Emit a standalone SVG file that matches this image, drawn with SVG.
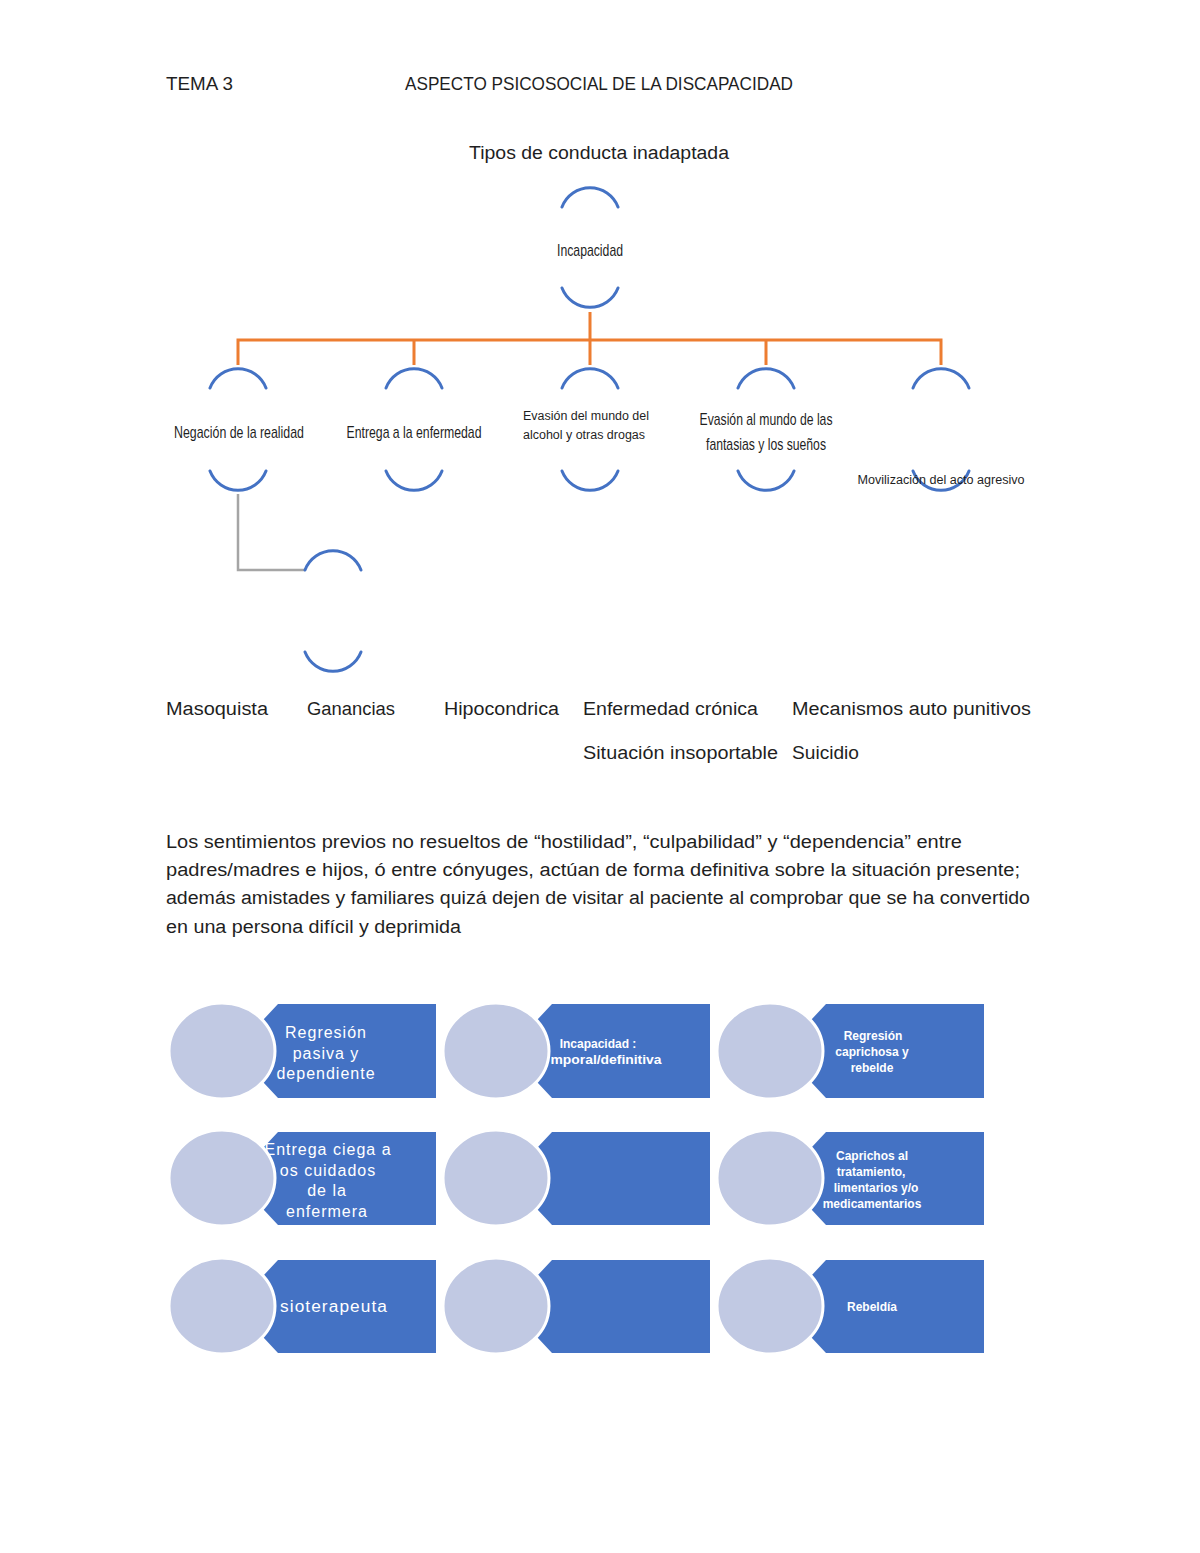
<svg xmlns="http://www.w3.org/2000/svg" width="1200" height="1553" viewBox="0 0 1200 1553">
<style>
text{font-family:"Liberation Sans",Arial,sans-serif;fill:#1f1f1f}
.h{font-size:18px}
.lab{font-size:17px;text-anchor:middle}
.sm{font-size:12px;text-anchor:middle}
.arc{fill:none;stroke:#4472C4;stroke-width:3;stroke-linecap:round}
.org{fill:none;stroke:#ED7D31;stroke-width:3}
.gry{fill:none;stroke:#A5A5A5;stroke-width:2.5}
.box{fill:#4472C4}
.circ{fill:#C1C9E3;stroke:#ffffff;stroke-width:3}
.bt{fill:#ffffff;font-size:16px;text-anchor:middle;letter-spacing:1px}
.bs{fill:#ffffff;font-size:12px;font-weight:bold;text-anchor:middle}
</style>
<rect width="1200" height="1553" fill="#ffffff"/>
<g id="header">
<text class="h" x="166" y="90" textLength="67" lengthAdjust="spacingAndGlyphs">TEMA 3</text>
<text class="h" x="405" y="90" textLength="388" lengthAdjust="spacingAndGlyphs">ASPECTO PSICOSOCIAL DE LA DISCAPACIDAD</text>
<text class="h" x="469" y="159" textLength="260" lengthAdjust="spacingAndGlyphs">Tipos de conducta inadaptada</text>
</g>
<g id="connectors">
<path class="org" d="M590 312 V340 M238 365 V340 H941 V365 M414 340 V365 M590 340 V365 M766 340 V365"/>
<path class="gry" d="M238 494 V570 H305"/>
</g>
<g id="node-incapacidad">
<path class="arc" d="M562 207 A30 30 0 0 1 618 207 M562 288 A30 30 0 0 0 618 288"/>
<text class="lab" x="590" y="256" textLength="66" lengthAdjust="spacingAndGlyphs">Incapacidad</text>
</g>
<g id="node-negacion">
<path class="arc" d="M210 388 A30 30 0 0 1 266 388 M210 471 A30 30 0 0 0 266 471"/>
<text class="lab" x="239" y="438" textLength="130" lengthAdjust="spacingAndGlyphs">Negación de la realidad</text>
</g>
<g id="node-entrega">
<path class="arc" d="M386 388 A30 30 0 0 1 442 388 M386 471 A30 30 0 0 0 442 471"/>
<text class="lab" x="414" y="438" textLength="135" lengthAdjust="spacingAndGlyphs">Entrega a la enfermedad</text>
</g>
<g id="node-alcohol">
<path class="arc" d="M562 388 A30 30 0 0 1 618 388 M562 471 A30 30 0 0 0 618 471"/>
<text class="sm" x="586" y="420" textLength="126" lengthAdjust="spacingAndGlyphs">Evasión del mundo del</text>
<text class="sm" x="584" y="439" textLength="122" lengthAdjust="spacingAndGlyphs">alcohol y otras drogas</text>
</g>
<g id="node-fantasias">
<path class="arc" d="M738 388 A30 30 0 0 1 794 388 M738 471 A30 30 0 0 0 794 471"/>
<text class="lab" x="766" y="425" textLength="133" lengthAdjust="spacingAndGlyphs">Evasión al mundo de las</text>
<text class="lab" x="766" y="450" textLength="120" lengthAdjust="spacingAndGlyphs">fantasias y los sueños</text>
</g>
<g id="node-movilizacion">
<path class="arc" d="M913 388 A30 30 0 0 1 969 388 M913 471 A30 30 0 0 0 969 471"/>
<text class="sm" x="941" y="484" textLength="167" lengthAdjust="spacingAndGlyphs">Movilización del acto agresivo</text>
</g>
<g id="node-sub">
<path class="arc" d="M305 570 A30 30 0 0 1 361 570 M305 652 A30 30 0 0 0 361 652"/>
</g>
<g id="labels">
<text class="h" x="166" y="715" textLength="102" lengthAdjust="spacingAndGlyphs">Masoquista</text>
<text class="h" x="307" y="715" textLength="88" lengthAdjust="spacingAndGlyphs">Ganancias</text>
<text class="h" x="444" y="715" textLength="115" lengthAdjust="spacingAndGlyphs">Hipocondrica</text>
<text class="h" x="583" y="715" textLength="175" lengthAdjust="spacingAndGlyphs">Enfermedad crónica</text>
<text class="h" x="792" y="715" textLength="239" lengthAdjust="spacingAndGlyphs">Mecanismos auto punitivos</text>
<text class="h" x="583" y="759" textLength="195" lengthAdjust="spacingAndGlyphs">Situación insoportable</text>
<text class="h" x="792" y="759" textLength="67" lengthAdjust="spacingAndGlyphs">Suicidio</text>
</g>
<g id="paragraph">
<text class="h" x="166" y="848" textLength="796" lengthAdjust="spacingAndGlyphs">Los sentimientos previos no resueltos de “hostilidad”, “culpabilidad” y “dependencia” entre</text>
<text class="h" x="166" y="876" textLength="854" lengthAdjust="spacingAndGlyphs">padres/madres e hijos, ó entre cónyuges, actúan de forma definitiva sobre la situación presente;</text>
<text class="h" x="166" y="904" textLength="864" lengthAdjust="spacingAndGlyphs">además amistades y familiares quizá dejen de visitar al paciente al comprobar que se ha convertido</text>
<text class="h" x="166" y="933" textLength="295" lengthAdjust="spacingAndGlyphs">en una persona difícil y deprimida</text>
</g>
<g id="grid-r1c1">
<polygon class="box" points="278,1004 436,1004 436,1098 278,1098 263,1082 263,1020"/>
<text class="bt" x="326" y="1038">Regresión</text>
<text class="bt" x="326" y="1059">pasiva y</text>
<text class="bt" x="326" y="1079">dependiente</text>
<ellipse class="circ" cx="222" cy="1051" rx="53" ry="48"/>
</g>
<g id="grid-r1c2">
<polygon class="box" points="552,1004 710,1004 710,1098 552,1098 537,1082 537,1020"/>
<text class="bs" x="598" y="1048">Incapacidad :</text>
<text class="bs" x="606" y="1064" textLength="111" lengthAdjust="spacingAndGlyphs">mporal/definitiva</text>
<ellipse class="circ" cx="496" cy="1051" rx="53" ry="48"/>
</g>
<g id="grid-r1c3">
<polygon class="box" points="826,1004 984,1004 984,1098 826,1098 811,1082 811,1020"/>
<text class="bs" x="873" y="1040">Regresión</text>
<text class="bs" x="872" y="1056">caprichosa y</text>
<text class="bs" x="872" y="1072">rebelde</text>
<ellipse class="circ" cx="770" cy="1051" rx="53" ry="48"/>
</g>
<g id="grid-r2c1">
<polygon class="box" points="278,1132 436,1132 436,1225 278,1225 263,1209 263,1148"/>
<text class="bt" x="328" y="1155">Entrega ciega a</text>
<text class="bt" x="328" y="1176">os cuidados</text>
<text class="bt" x="327" y="1196">de la</text>
<text class="bt" x="327" y="1217">enfermera</text>
<ellipse class="circ" cx="222" cy="1178" rx="53" ry="48"/>
</g>
<g id="grid-r2c2">
<polygon class="box" points="552,1132 710,1132 710,1225 552,1225 537,1209 537,1148"/>
<ellipse class="circ" cx="496" cy="1178" rx="53" ry="48"/>
</g>
<g id="grid-r2c3">
<polygon class="box" points="826,1132 984,1132 984,1225 826,1225 811,1209 811,1148"/>
<text class="bs" x="872" y="1160">Caprichos al</text>
<text class="bs" x="871" y="1176">tratamiento,</text>
<text class="bs" x="876" y="1192">limentarios y/o</text>
<text class="bs" x="872" y="1208">medicamentarios</text>
<ellipse class="circ" cx="770" cy="1178" rx="53" ry="48"/>
</g>
<g id="grid-r3c1">
<polygon class="box" points="278,1260 436,1260 436,1353 278,1353 263,1337 263,1276"/>
<text class="bt" x="334" y="1312" textLength="108" lengthAdjust="spacingAndGlyphs">sioterapeuta</text>
<ellipse class="circ" cx="222" cy="1306" rx="53" ry="48"/>
</g>
<g id="grid-r3c2">
<polygon class="box" points="552,1260 710,1260 710,1353 552,1353 537,1337 537,1276"/>
<ellipse class="circ" cx="496" cy="1306" rx="53" ry="48"/>
</g>
<g id="grid-r3c3">
<polygon class="box" points="826,1260 984,1260 984,1353 826,1353 811,1337 811,1276"/>
<text class="bs" x="872" y="1311">Rebeldía</text>
<ellipse class="circ" cx="770" cy="1306" rx="53" ry="48"/>
</g>
</svg>
